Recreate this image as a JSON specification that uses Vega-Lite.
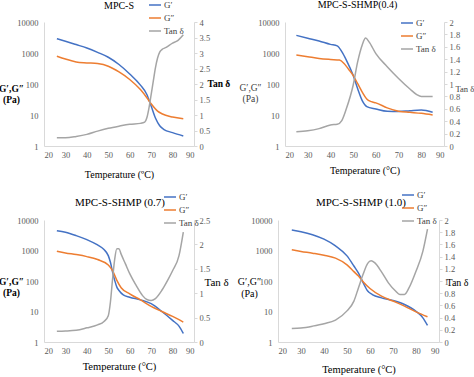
{
"$schema":"https://vega.github.io/schema/vega-lite/v6.json",
"padding":{"left":-2,"top":-2,"right":0,"bottom":0},
"config":{"view":{"stroke":null},"font":"Liberation Serif",
 "axis":{"grid":false,"domainColor":"#d9d9d9","labelColor":"#595959","labelFontSize":8.5,"labelFont":"Liberation Serif","titleFont":"Liberation Serif","titleFontWeight":"normal","titleColor":"#000000","titleFontSize":10,"labelOverlap":false},
 "legend":{"orient":"none","title":null,"symbolType":"stroke","symbolSize":144,"symbolStrokeWidth":1.5,"labelFontSize":9,"labelFont":"Liberation Serif","labelColor":"#404040","rowPadding":1,"padding":0,"labelOffset":2},
 "title":{"font":"Liberation Serif","fontWeight":"normal","color":"#000000","frame":"group","anchor":"middle","baseline":"alphabetic"},
 "line":{"interpolate":"monotone","strokeWidth":1.5}
},
"datasets":{
"p1":[
{"T":26,"s":"G′","v":2900},{"T":30,"s":"G′","v":2400},{"T":35,"s":"G′","v":1870},{"T":40,"s":"G′","v":1450},{"T":45,"s":"G′","v":1050},{"T":50,"s":"G′","v":730},{"T":55,"s":"G′","v":425},{"T":60,"s":"G′","v":210},{"T":65,"s":"G′","v":92},{"T":68,"s":"G′","v":46},{"T":70,"s":"G′","v":19.5},{"T":72,"s":"G′","v":8},{"T":74,"s":"G′","v":4.5},{"T":76,"s":"G′","v":3.4},{"T":80,"s":"G′","v":2.7},{"T":85,"s":"G′","v":2.1},
{"T":26,"s":"G″","v":790},{"T":30,"s":"G″","v":640},{"T":35,"s":"G″","v":515},{"T":40,"s":"G″","v":480},{"T":45,"s":"G″","v":455},{"T":50,"s":"G″","v":375},{"T":55,"s":"G″","v":245},{"T":60,"s":"G″","v":140},{"T":65,"s":"G″","v":66},{"T":68,"s":"G″","v":36},{"T":70,"s":"G″","v":23},{"T":73,"s":"G″","v":13.4},{"T":75,"s":"G″","v":11},{"T":80,"s":"G″","v":8.6},{"T":85,"s":"G″","v":7.6},
{"T":26,"s":"Tan δ","v":0.27},{"T":30,"s":"Tan δ","v":0.27},{"T":35,"s":"Tan δ","v":0.31},{"T":40,"s":"Tan δ","v":0.375},{"T":45,"s":"Tan δ","v":0.48},{"T":50,"s":"Tan δ","v":0.57},{"T":55,"s":"Tan δ","v":0.64},{"T":60,"s":"Tan δ","v":0.7},{"T":65,"s":"Tan δ","v":0.73},{"T":67,"s":"Tan δ","v":0.77},{"T":68,"s":"Tan δ","v":0.91},{"T":69,"s":"Tan δ","v":1.23},{"T":70,"s":"Tan δ","v":1.66},{"T":71,"s":"Tan δ","v":2.09},{"T":72,"s":"Tan δ","v":2.52},{"T":73,"s":"Tan δ","v":2.84},{"T":74,"s":"Tan δ","v":3.03},{"T":75,"s":"Tan δ","v":3.11},{"T":77,"s":"Tan δ","v":3.18},{"T":80,"s":"Tan δ","v":3.32},{"T":82,"s":"Tan δ","v":3.38},{"T":85,"s":"Tan δ","v":3.59}
],
"p2":[
{"T":25,"s":"G′","v":3700},{"T":30,"s":"G′","v":3000},{"T":35,"s":"G′","v":2450},{"T":40,"s":"G′","v":1900},{"T":43,"s":"G′","v":1700},{"T":45,"s":"G′","v":1100},{"T":47,"s":"G′","v":590},{"T":50,"s":"G′","v":190},{"T":52,"s":"G′","v":70},{"T":54,"s":"G′","v":29},{"T":56,"s":"G′","v":18.7},{"T":60,"s":"G′","v":15.7},{"T":65,"s":"G′","v":13.2},{"T":70,"s":"G′","v":13},{"T":75,"s":"G′","v":13.8},{"T":80,"s":"G′","v":14.5},{"T":85,"s":"G′","v":12.2},
{"T":25,"s":"G″","v":860},{"T":30,"s":"G″","v":760},{"T":35,"s":"G″","v":670},{"T":40,"s":"G″","v":620},{"T":44,"s":"G″","v":590},{"T":46,"s":"G″","v":460},{"T":48,"s":"G″","v":300},{"T":50,"s":"G″","v":190},{"T":52,"s":"G″","v":102},{"T":54,"s":"G″","v":55},{"T":56,"s":"G″","v":33},{"T":58,"s":"G″","v":27},{"T":60,"s":"G″","v":24.6},{"T":65,"s":"G″","v":17},{"T":70,"s":"G″","v":13.2},{"T":75,"s":"G″","v":12.2},{"T":80,"s":"G″","v":11.3},{"T":85,"s":"G″","v":10},
{"T":25,"s":"Tan δ","v":0.23},{"T":30,"s":"Tan δ","v":0.245},{"T":35,"s":"Tan δ","v":0.28},{"T":40,"s":"Tan δ","v":0.34},{"T":43,"s":"Tan δ","v":0.35},{"T":45,"s":"Tan δ","v":0.41},{"T":47,"s":"Tan δ","v":0.6},{"T":50,"s":"Tan δ","v":0.98},{"T":52,"s":"Tan δ","v":1.36},{"T":54,"s":"Tan δ","v":1.63},{"T":55.5,"s":"Tan δ","v":1.74},{"T":57,"s":"Tan δ","v":1.68},{"T":60,"s":"Tan δ","v":1.49},{"T":65,"s":"Tan δ","v":1.28},{"T":70,"s":"Tan δ","v":1.09},{"T":75,"s":"Tan δ","v":0.92},{"T":78,"s":"Tan δ","v":0.83},{"T":80,"s":"Tan δ","v":0.8},{"T":85,"s":"Tan δ","v":0.8}
],
"p3":[
{"T":26,"s":"G′","v":4470},{"T":30,"s":"G′","v":3960},{"T":35,"s":"G′","v":3080},{"T":40,"s":"G′","v":2270},{"T":45,"s":"G′","v":1520},{"T":48,"s":"G′","v":1070},{"T":50,"s":"G′","v":680},{"T":51,"s":"G′","v":410},{"T":52,"s":"G′","v":195},{"T":53,"s":"G′","v":105},{"T":54,"s":"G′","v":63},{"T":55,"s":"G′","v":49},{"T":57,"s":"G′","v":35},{"T":60,"s":"G′","v":29.5},{"T":65,"s":"G′","v":24},{"T":70,"s":"G′","v":18},{"T":75,"s":"G′","v":10},{"T":80,"s":"G′","v":5.1},{"T":83,"s":"G′","v":3.3},{"T":85,"s":"G′","v":1.9},
{"T":26,"s":"G″","v":950},{"T":30,"s":"G″","v":830},{"T":35,"s":"G″","v":735},{"T":40,"s":"G″","v":630},{"T":45,"s":"G″","v":505},{"T":50,"s":"G″","v":337},{"T":52,"s":"G″","v":220},{"T":54,"s":"G″","v":105},{"T":56,"s":"G″","v":60},{"T":60,"s":"G″","v":38},{"T":65,"s":"G″","v":24},{"T":70,"s":"G″","v":14.7},{"T":75,"s":"G″","v":10},{"T":80,"s":"G″","v":6.9},{"T":85,"s":"G″","v":4.5},
{"T":26,"s":"Tan δ","v":0.22},{"T":30,"s":"Tan δ","v":0.225},{"T":35,"s":"Tan δ","v":0.24},{"T":40,"s":"Tan δ","v":0.29},{"T":45,"s":"Tan δ","v":0.35},{"T":48,"s":"Tan δ","v":0.42},{"T":50,"s":"Tan δ","v":0.54},{"T":51,"s":"Tan δ","v":0.82},{"T":52,"s":"Tan δ","v":1.29},{"T":53,"s":"Tan δ","v":1.7},{"T":54,"s":"Tan δ","v":1.91},{"T":55,"s":"Tan δ","v":1.91},{"T":56,"s":"Tan δ","v":1.8},{"T":58,"s":"Tan δ","v":1.6},{"T":60,"s":"Tan δ","v":1.4},{"T":63,"s":"Tan δ","v":1.16},{"T":66,"s":"Tan δ","v":0.95},{"T":68,"s":"Tan δ","v":0.87},{"T":70,"s":"Tan δ","v":0.85},{"T":72,"s":"Tan δ","v":0.89},{"T":75,"s":"Tan δ","v":1.06},{"T":78,"s":"Tan δ","v":1.29},{"T":80,"s":"Tan δ","v":1.46},{"T":83,"s":"Tan δ","v":1.77},{"T":85,"s":"Tan δ","v":2.25}
],
"p4":[
{"T":26,"s":"G′","v":4680},{"T":30,"s":"G′","v":4140},{"T":35,"s":"G′","v":3300},{"T":40,"s":"G′","v":2350},{"T":45,"s":"G′","v":1420},{"T":50,"s":"G′","v":665},{"T":53,"s":"G′","v":310},{"T":55,"s":"G′","v":180},{"T":57,"s":"G′","v":88},{"T":59,"s":"G′","v":47},{"T":61,"s":"G′","v":36},{"T":65,"s":"G′","v":28},{"T":70,"s":"G′","v":23},{"T":75,"s":"G′","v":17},{"T":80,"s":"G′","v":10.2},{"T":83,"s":"G′","v":6.2},{"T":85,"s":"G′","v":3.5},
{"T":26,"s":"G″","v":1050},{"T":30,"s":"G″","v":930},{"T":35,"s":"G″","v":815},{"T":40,"s":"G″","v":700},{"T":45,"s":"G″","v":560},{"T":50,"s":"G″","v":337},{"T":53,"s":"G″","v":203},{"T":55,"s":"G″","v":145},{"T":57,"s":"G″","v":95},{"T":60,"s":"G″","v":57},{"T":65,"s":"G″","v":32},{"T":70,"s":"G″","v":22},{"T":75,"s":"G″","v":15},{"T":80,"s":"G″","v":9.7},{"T":85,"s":"G″","v":6.7},
{"T":26,"s":"Tan δ","v":0.22},{"T":30,"s":"Tan δ","v":0.23},{"T":35,"s":"Tan δ","v":0.26},{"T":40,"s":"Tan δ","v":0.3},{"T":45,"s":"Tan δ","v":0.36},{"T":50,"s":"Tan δ","v":0.51},{"T":53,"s":"Tan δ","v":0.67},{"T":55,"s":"Tan δ","v":0.89},{"T":57,"s":"Tan δ","v":1.11},{"T":59,"s":"Tan δ","v":1.29},{"T":60.5,"s":"Tan δ","v":1.33},{"T":62,"s":"Tan δ","v":1.3},{"T":65,"s":"Tan δ","v":1.15},{"T":68,"s":"Tan δ","v":0.97},{"T":71,"s":"Tan δ","v":0.84},{"T":73,"s":"Tan δ","v":0.78},{"T":75,"s":"Tan δ","v":0.78},{"T":77,"s":"Tan δ","v":0.89},{"T":80,"s":"Tan δ","v":1.16},{"T":83,"s":"Tan δ","v":1.49},{"T":85,"s":"Tan δ","v":1.85}
]
},
"vconcat":[
{"hconcat":[
 {"width":150,"height":124,"data":{"name":"p1"},
  "title":{"text":"MPC-S","offset":-13,"fontSize":10},
  "encoding":{"x":{"field":"T","type":"quantitative","scale":{"domain":[20,90],"nice":false},"axis":{"values":[20,30,40,50,60,70,80,90],"ticks":false,"tickSize":0,"labelPadding":4,"title":"Temperature (ºC)","titleY":28,"titleBaseline":"middle"}}},
  "layer":[
   {"transform":[{"filter":"datum.s !== 'Tan δ'"}],"mark":{"type":"line"},
    "encoding":{"y":{"field":"v","type":"quantitative","scale":{"type":"log","domain":[1,10000]},"axis":{"orient":"left","values":[1,10,100,1000,10000],"format":"d","ticks":false,"tickSize":0,"labelPadding":6,"title":["G′,G″","(Pa)"],"titleAngle":0,"titleAlign":"center","titleBaseline":"middle","titleX":-33,"titleY":66,"titleFontWeight":"bold","titleFontSize":9.5}},
     "color":{"field":"s","type":"nominal","scale":{"domain":["G′","G″","Tan δ"],"range":["#4472C4","#ED7D31","#A5A5A5"]},"legend":{"legendX":104,"legendY":-24}}}},
   {"transform":[{"filter":"datum.s === 'Tan δ'"}],"mark":{"type":"line"},
    "encoding":{"y":{"field":"v","type":"quantitative","scale":{"domain":[0,4],"nice":false},"axis":{"orient":"right","values":[0,0.5,1,1.5,2,2.5,3,3.5,4],"format":"~g","ticks":true,"tickSize":3,"tickColor":"#d9d9d9","labelPadding":2,"title":"Tan δ","titleAngle":0,"titleAlign":"left","titleBaseline":"middle","titleX":13,"titleY":61,"titleFontWeight":"bold","titleFontSize":9.5}},
     "color":{"field":"s","type":"nominal"}}}
  ],
  "resolve":{"scale":{"y":"independent"}}},
 {"width":159,"height":124,"data":{"name":"p2"},
  "title":{"text":"MPC-S-SHMP(0.4)","offset":6.5,"dx":-7,"fontSize":10},
  "encoding":{"x":{"field":"T","type":"quantitative","scale":{"domain":[20,90],"nice":false},"axis":{"values":[20,30,40,50,60,70,80,90],"ticks":false,"tickSize":0,"labelPadding":4,"title":"Temperature (°C)","titleY":24,"titleBaseline":"middle"}}},
  "layer":[
   {"transform":[{"filter":"datum.s !== 'Tan δ'"}],"mark":{"type":"line"},
    "encoding":{"y":{"field":"v","type":"quantitative","scale":{"type":"log","domain":[1,10000]},"axis":{"orient":"left","values":[1,10,100,1000,10000],"format":"d","ticks":false,"tickSize":0,"labelPadding":6,"title":["G′,G″","(Pa)"],"titleAngle":0,"titleAlign":"center","titleBaseline":"middle","titleX":-35,"titleY":65,"titleColor":"#404040","titleFontSize":9.5}},
     "color":{"field":"s","type":"nominal","scale":{"domain":["G′","G″","Tan δ"],"range":["#4472C4","#ED7D31","#A5A5A5"]},"legend":{"legendX":115,"legendY":-6}}}},
   {"transform":[{"filter":"datum.s === 'Tan δ'"}],"mark":{"type":"line"},
    "encoding":{"y":{"field":"v","type":"quantitative","scale":{"domain":[0,2],"nice":false},"axis":{"orient":"right","values":[0,0.2,0.4,0.6,0.8,1,1.2,1.4,1.6,1.8,2],"format":"~g","ticks":true,"tickSize":3,"tickColor":"#d9d9d9","labelPadding":2,"title":"Tan δ","titleAngle":0,"titleAlign":"left","titleBaseline":"middle","titleX":11,"titleY":66,"titleColor":"#404040","titleFontSize":8.5}},
     "color":{"field":"s","type":"nominal"}}}
  ],
  "resolve":{"scale":{"y":"independent"}}}
 ],"spacing":91,"bounds":"flush","resolve":{"scale":{"color":"independent"}}},
{"hconcat":[
 {"width":150,"height":122,"data":{"name":"p3"},
  "title":{"text":"MPC-S-SHMP (0.7)","offset":-17.5,"dx":1,"fontSize":11},
  "encoding":{"x":{"field":"T","type":"quantitative","scale":{"domain":[20,90],"nice":false},"axis":{"values":[20,30,40,50,60,70,80,90],"ticks":false,"tickSize":0,"labelPadding":4,"title":"Temperature (°C)","titleY":24,"titleBaseline":"middle","titleFontSize":10.5}}},
  "layer":[
   {"transform":[{"filter":"datum.s !== 'Tan δ'"}],"mark":{"type":"line"},
    "encoding":{"y":{"field":"v","type":"quantitative","scale":{"type":"log","domain":[1,10000]},"axis":{"orient":"left","values":[1,10,100,1000,10000],"format":"d","ticks":false,"tickSize":0,"labelPadding":6,"title":["G′,G″","(Pa)"],"titleAngle":0,"titleAlign":"center","titleBaseline":"middle","titleX":-33,"titleY":61,"titleFontWeight":"bold","titleFontSize":9.5}},
     "color":{"field":"s","type":"nominal","scale":{"domain":["G′","G″","Tan δ"],"range":["#4472C4","#ED7D31","#A5A5A5"]},"legend":{"legendX":119,"legendY":-30}}}},
   {"transform":[{"filter":"datum.s === 'Tan δ'"}],"mark":{"type":"line"},
    "encoding":{"y":{"field":"v","type":"quantitative","scale":{"domain":[0,2.5],"nice":false},"axis":{"orient":"right","values":[0,0.5,1,1.5,2,2.5],"format":"~g","ticks":true,"tickSize":3,"tickColor":"#d9d9d9","labelPadding":2,"title":"Tan δ","titleAngle":0,"titleAlign":"left","titleBaseline":"middle","titleX":10,"titleY":62,"titleFontSize":11}},
     "color":{"field":"s","type":"nominal"}}}
  ],
  "resolve":{"scale":{"y":"independent"}}},
 {"width":161,"height":122,"data":{"name":"p4"},
  "title":{"text":"MPC-S-SHMP (1.0)","offset":-20,"dx":2.5,"fontSize":11},
  "encoding":{"x":{"field":"T","type":"quantitative","scale":{"domain":[20,90],"nice":false},"axis":{"values":[20,30,40,50,60,70,80,90],"ticks":false,"tickSize":0,"labelPadding":4,"title":"Temperature (°C)","titleY":27,"titleBaseline":"middle","titleFontSize":10.5}}},
  "layer":[
   {"transform":[{"filter":"datum.s !== 'Tan δ'"}],"mark":{"type":"line"},
    "encoding":{"y":{"field":"v","type":"quantitative","scale":{"type":"log","domain":[1,10000]},"axis":{"orient":"left","values":[1,10,100,1000,10000],"format":"d","ticks":false,"tickSize":0,"labelPadding":6,"title":["G′,G″","(Pa)"],"titleAngle":0,"titleAlign":"center","titleBaseline":"middle","titleX":-29,"titleY":61,"titleFontSize":10}},
     "color":{"field":"s","type":"nominal","scale":{"domain":["G′","G″","Tan δ"],"range":["#4472C4","#ED7D31","#A5A5A5"]},"legend":{"legendX":123,"legendY":-32}}}},
   {"transform":[{"filter":"datum.s === 'Tan δ'"}],"mark":{"type":"line"},
    "encoding":{"y":{"field":"v","type":"quantitative","scale":{"domain":[0,2],"nice":false},"axis":{"orient":"right","values":[0,0.2,0.4,0.6,0.8,1,1.2,1.4,1.6,1.8,2],"format":"~g","ticks":true,"tickSize":3,"tickColor":"#d9d9d9","labelPadding":2,"title":"Tan δ","titleAngle":0,"titleAlign":"left","titleBaseline":"middle","titleX":7,"titleY":62,"titleFontSize":10}},
     "color":{"field":"s","type":"nominal"}}}
  ],
  "resolve":{"scale":{"y":"independent"}}}
 ],"spacing":84,"bounds":"flush","resolve":{"scale":{"color":"independent"}}}
],
"spacing":198,"bounds":"flush","resolve":{"scale":{"color":"independent"}}
}
